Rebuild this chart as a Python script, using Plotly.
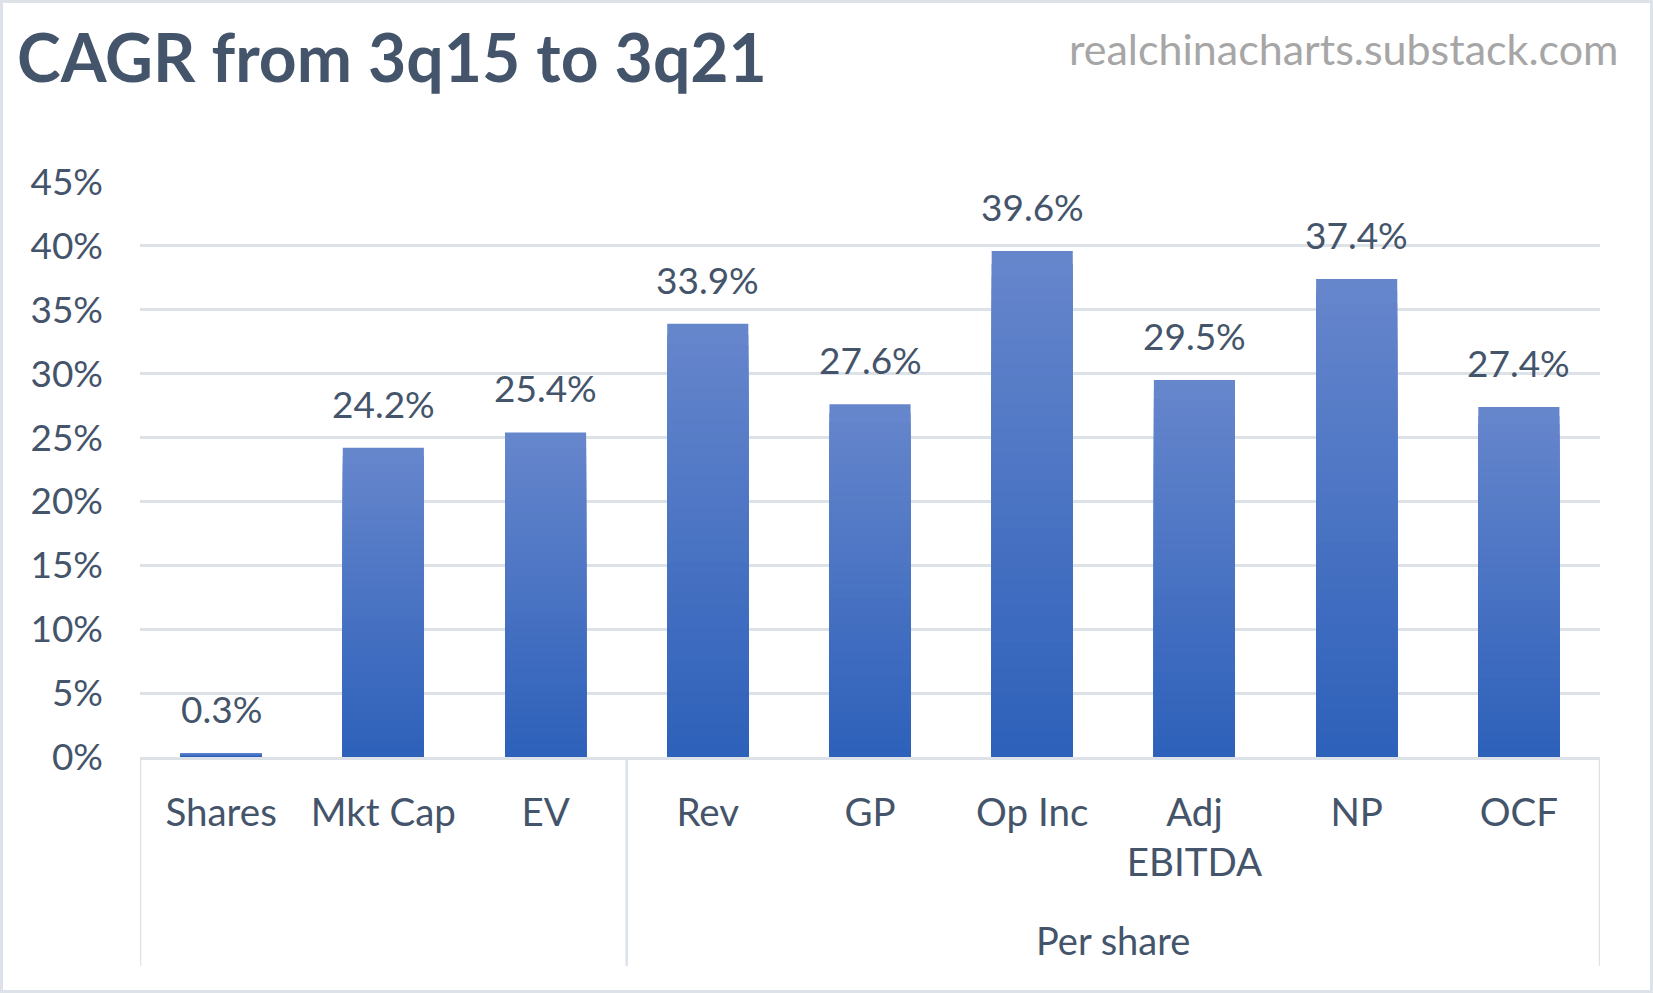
import plotly.graph_objects as go

categories = ["Shares", "Mkt Cap", "EV", "Rev", "GP", "Op Inc", "Adj EBITDA", "NP", "OCF"]
tick_labels = ["Shares", "Mkt Cap", "EV", "Rev", "GP", "Op Inc", "Adj<br>EBITDA", "NP", "OCF"]
values = [0.3, 24.2, 25.4, 33.9, 27.6, 39.6, 29.5, 37.4, 27.4]
value_labels = ["0.3%", "24.2%", "25.4%", "33.9%", "27.6%", "39.6%", "29.5%", "37.4%", "27.4%"]
y_ticks = [0, 5, 10, 15, 20, 25, 30, 35, 40, 45]
y_tick_labels = ["0%", "5%", "10%", "15%", "20%", "25%", "30%", "35%", "40%", "45%"]
group_label = "Per share"
group_bounds = [-0.5, 2.5, 8.5]

TXT = "#44546a"
GRID = "#dde2e8"
FONT = "Lato"
TOP_RGB = (0x66, 0x86, 0xcc)
BOT_RGB = (0x2e, 0x61, 0xba)

W, H = 1653, 993
L, R, T, B = 140, 53, 182, 236
pw, ph = W - L - R, H - T - B

fig = go.Figure()
# vertical gradient per bar: overlaid bars shrinking in height, getting darker
N = 40
for k in range(N):
    f = (N - k) / N
    t = k / (N - 1)
    col = "rgb(%d,%d,%d)" % tuple(round(a + (b - a) * t) for a, b in zip(TOP_RGB, BOT_RGB))
    fig.add_trace(go.Bar(
        x=categories, y=[v * f for v in values],
        marker=dict(color=col, line=dict(width=0)),
        width=0.5, hoverinfo="skip",
    ))

for c, v, t in zip(categories, values, value_labels):
    fig.add_annotation(x=c, y=v, text=t, showarrow=False, yanchor="bottom",
                       yshift=20, font=dict(family=FONT, size=37, color=TXT))

# group dividers
for gx in group_bounds:
    fig.add_shape(type="line", xref="x", yref="paper", x0=gx, x1=gx,
                  y0=0, y1=-(966 - (H - B)) / ph, line=dict(color=GRID, width=2.5))

fig.add_annotation(x=(group_bounds[1] + group_bounds[2]) / 2, y=-(940 - (H - B)) / ph,
                   xref="x", yref="paper", text=group_label, xanchor="center", yanchor="middle",
                   showarrow=False, font=dict(family=FONT, size=38, color=TXT))

# outer border
fig.add_shape(type="rect", xref="paper", yref="paper",
              x0=(-L + 1.5) / pw, x1=(W - L - 1.5) / pw,
              y0=(-B + 1.5) / ph, y1=(H - B - 1.5) / ph,
              line=dict(color=GRID, width=3), layer="below")

fig.add_annotation(x=(15 - L) / pw, y=(H - B - 57) / ph, xref="paper", yref="paper",
                   xanchor="left", yanchor="middle", text="<b>CAGR from 3q15 to 3q21</b>",
                   showarrow=False, font=dict(family=FONT, size=66, color=TXT))
fig.add_annotation(x=(1620 - L) / pw, y=(H - B - 48) / ph, xref="paper", yref="paper",
                   xanchor="right", yanchor="middle", text="realchinacharts.substack.com",
                   showarrow=False, font=dict(family=FONT, size=43, color="#a6a6a6"))

fig.update_layout(
    width=W, height=H,
    margin=dict(l=L, r=R, t=T, b=B),
    paper_bgcolor="white", plot_bgcolor="white",
    showlegend=False, barmode="overlay",
    font=dict(family=FONT, size=37, color=TXT),
    xaxis=dict(
        range=[-0.5, 8.5], tickmode="array", tickvals=categories, ticktext=tick_labels,
        showgrid=False, showline=True, linecolor=GRID, linewidth=2.5,
        ticks="", ticklabelstandoff=20, tickfont=dict(family=FONT, size=38.5, color=TXT),
        zeroline=False, fixedrange=True,
    ),
    yaxis=dict(
        range=[0, 45], tickmode="array", tickvals=y_ticks, ticktext=y_tick_labels,
        showgrid=True, gridcolor=GRID, gridwidth=2.5, zeroline=False, showline=False,
        ticks="", ticklabelstandoff=36, tickfont=dict(family=FONT, size=37, color=TXT),
        fixedrange=True,
    ),
)

fig.write_html("out.html")
